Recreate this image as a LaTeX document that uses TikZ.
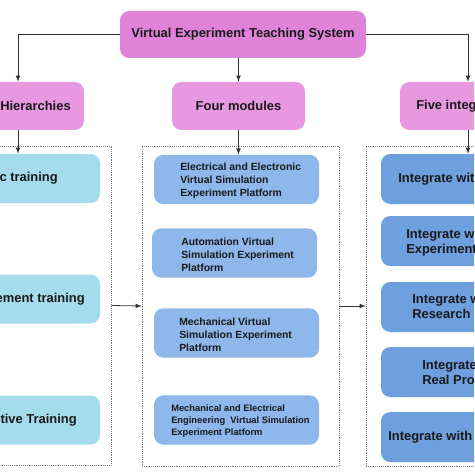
\documentclass[tikz,border=0pt]{standalone}
\usepackage{fontspec}
\setmainfont{Liberation Sans}
\usetikzlibrary{arrows}
\definecolor{topcolor}{HTML}{E083D8}
\definecolor{headcolor}{HTML}{E898E0}
\definecolor{levelcolor}{HTML}{A4DCEE}
\definecolor{modcolor}{HTML}{8EB8EC}
\definecolor{intcolor}{HTML}{6E9FDE}

\tikzset{
  box/.style={rounded corners=7pt, inner sep=0pt},
  txt/.style={inner sep=0pt, align=left, text=black!90,
    font=\bfseries\fontsize{9.7}{11.25}\selectfont},
  modtxt/.style={txt, font=\bfseries\fontsize{7.8}{9.75}\selectfont},
  frame/.style={draw=gray, densely dotted, line width=0.4pt, inner sep=0pt},
  arr/.style={black!80, line width=0.6pt, -latex}
}

\begin{document}
\begin{tikzpicture}[x=0.75pt,y=-0.75pt]
\useasboundingbox (0,0) rectangle (474,474);
\clip (0,0) rectangle (474,474);
\fill[white] (0,0) rectangle (474,474);

% dotted frames
\node[frame, minimum width=87pt, minimum height=239.25pt] (lf) at (53,305.5) {};
\node[frame, minimum width=147.75pt, minimum height=240pt] (mf) at (240.5,306) {};
\node[frame, minimum width=145.5pt, minimum height=240pt] (rf) at (463,306) {};

% top and headings
\node[box, txt, fill=topcolor, minimum width=184.5pt, minimum height=35.25pt] (top) at (243,34.5) {Virtual Experiment Teaching System};
\node[box, fill=headcolor, minimum width=99pt, minimum height=36pt] (h1) at (18,106) {};
\node[txt, anchor=east] (h1t) at (71,106) {Hierarchies};
\node[box, txt, fill=headcolor, minimum width=99.75pt, minimum height=36pt] (h2) at (238.5,106) {Four modules};
\node[box, fill=headcolor, minimum width=102pt, minimum height=36pt] (h3) at (468,106) {};
\node[txt, anchor=west] (h3t) at (416,106) {Five integ};

% left column
\foreach \y/\n in {178.5/1, 299/2, 420/3}
  \node[box, fill=levelcolor, minimum width=123pt, minimum height=36.75pt] (l\n) at (18,\y) {};
\node[txt, anchor=east] (l1t) at (58,178.5) {c training};
\node[txt, anchor=east] (l2t) at (85,299) {-ement training};
\node[txt, anchor=east] (l3t) at (77,420) {tive Training};

% middle column
\foreach \x/\y/\n in {236.5/179.5/1, 234.5/253/2, 236.5/333/3, 236.5/420/4}
  \node[box, fill=modcolor, minimum width=123.75pt, minimum height=37pt] (m\n) at (\x,\y) {};
\node[modtxt, anchor=west] (m1t) at (180,181) {Electrical and Electronic\\Virtual Simulation\\Experiment Platform};
\node[modtxt, anchor=west] (m2t) at (181,255) {Automation Virtual\\Simulation Experiment\\Platform};
\node[modtxt, anchor=west] (m3t) at (179,335) {Mechanical Virtual\\Simulation Experiment\\Platform};
\node[modtxt, anchor=west, font=\bfseries\fontsize{7}{9.2}\selectfont] (m4t) at (171,421) {Mechanical and Electrical\\Engineering\ \ Virtual Simulation\\Experiment Platform};

% right column
\foreach \y/\n in {179/1, 241/2, 307/3, 372/4, 437/5}
  \node[box, fill=intcolor, minimum width=130.5pt, minimum height=37.5pt] (r\n) at (468,\y) {};
\node[txt, anchor=west] (r1t) at (398,179) {Integrate wit};
\node[txt, anchor=west] (r2t) at (406,243) {Integrate w\\Experiment};
\node[txt, anchor=west] (r3t) at (412,306.5) {Integrate w\\Research};
\node[txt, anchor=west] (r4t) at (422,372.5) {Integrate\\Real Pro};
\node[txt, anchor=west] (r5t) at (388,437) {Integrate with};

% connectors
\draw[arr] (top.west) -| (h1.north);
\draw[arr] (top.south -| h2.north) -- (h2.north);
\draw[arr] (top.east) -| (h3.north);
\draw[arr] (h1.south) -- (l1.north);
\draw[arr] (h2.south) -- (h2.south |- m1.north);
\draw[arr] (h3.south) -- (r1.north);
\draw[arr] (lf.east) -- (mf.west);
\draw[arr] (mf.east) -- (rf.west);
\end{tikzpicture}
\end{document}
